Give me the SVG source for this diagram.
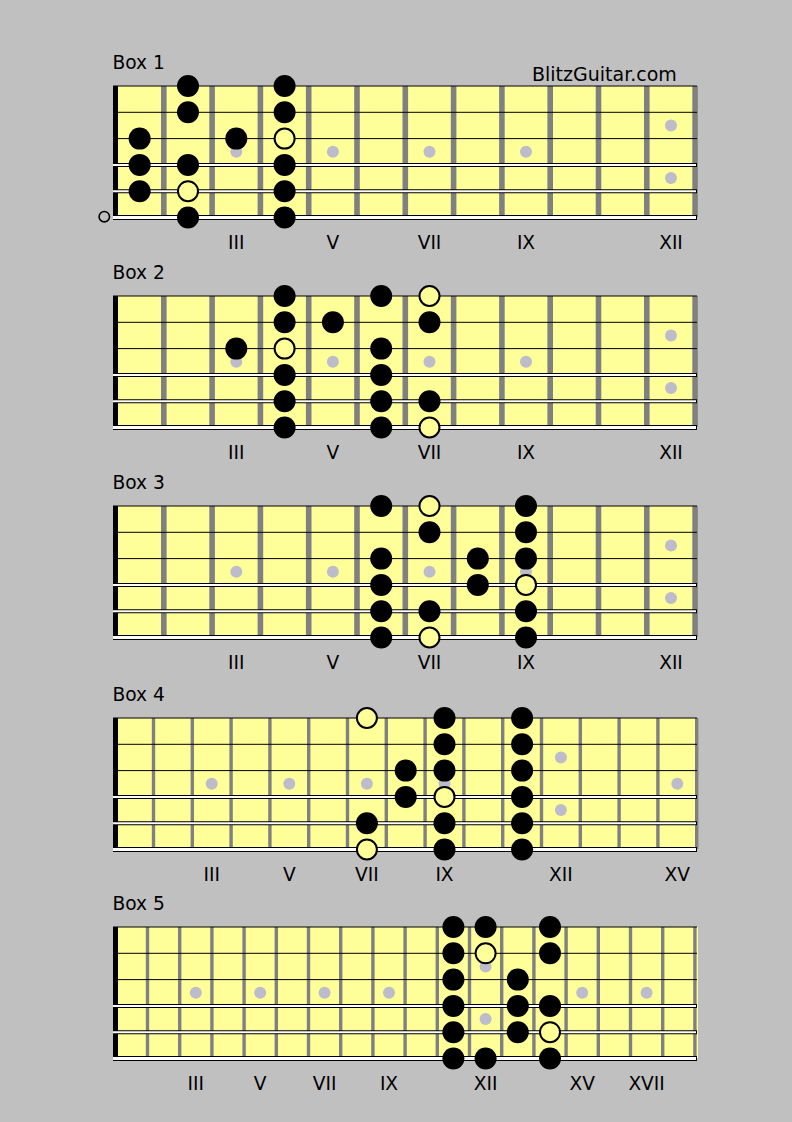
<svg xmlns="http://www.w3.org/2000/svg" xmlns:xlink="http://www.w3.org/1999/xlink" width="792" height="1122" viewBox="0 0 792 1122">
<style>
.bg{fill:#c0c0c0}
.board{fill:#ffff99}
.fret{fill:#808080}
.nut{fill:#000}
.thin{stroke:#000;stroke-width:1}
.w{stroke:#000;stroke-width:4}
.wi{stroke:#fff;stroke-width:2}
.w6{stroke:#000;stroke-width:5}
.w6i{stroke:#fff;stroke-width:3}
.inlay{fill:#bcbccb}
text{font-family:"DejaVu Sans",Verdana,sans-serif;font-size:18.6px;fill:#000}
.lbl{text-anchor:middle}
</style>
<defs>
<circle id="f" r="11" fill="#000"/>
<circle id="o" r="10" fill="#ffff99" stroke="#000" stroke-width="2"/>
<circle id="d" r="6" class="inlay"/>
<g id="strings">
<line class="thin" x1="113" y1="0" x2="697" y2="0"/>
<line class="thin" x1="113" y1="26.3" x2="697" y2="26.3"/>
<line class="thin" x1="113" y1="52.6" x2="697" y2="52.6"/>
<line class="w" x1="113" y1="78.9" x2="697" y2="78.9"/>
<line class="wi" x1="113" y1="78.9" x2="696" y2="78.9"/>
<line class="w" x1="113" y1="105.2" x2="697" y2="105.2"/>
<line class="wi" x1="113" y1="105.2" x2="696" y2="105.2"/>
<line class="w6" x1="113" y1="131.5" x2="697" y2="131.5"/>
<line class="w6i" x1="113" y1="131.5" x2="696" y2="131.5"/>
</g>
<g id="board12">
<rect class="board" x="113" y="0" width="585" height="131"/>
<g class="fret">
<rect x="161.0" y="0" width="5.6" height="131"/>
<rect x="209.3" y="0" width="5.6" height="131"/>
<rect x="257.6" y="0" width="5.6" height="131"/>
<rect x="305.9" y="0" width="5.6" height="131"/>
<rect x="354.2" y="0" width="5.6" height="131"/>
<rect x="402.5" y="0" width="5.6" height="131"/>
<rect x="450.8" y="0" width="5.6" height="131"/>
<rect x="499.1" y="0" width="5.6" height="131"/>
<rect x="547.4" y="0" width="5.6" height="131"/>
<rect x="595.7" y="0" width="5.6" height="131"/>
<rect x="644.0" y="0" width="5.6" height="131"/>
<rect x="692.3" y="0" width="5.6" height="131"/>
</g>
<rect class="nut" x="113" y="0" width="5" height="131.5"/>
<use href="#d" x="236.3" y="65.75"/>
<use href="#d" x="332.9" y="65.75"/>
<use href="#d" x="429.5" y="65.75"/>
<use href="#d" x="526" y="65.75"/>
<use href="#d" x="671" y="39.45"/>
<use href="#d" x="671" y="92.05"/>
<use href="#strings"/>
<text class="lbl" x="236.3" y="163">III</text>
<text class="lbl" x="332.9" y="163">V</text>
<text class="lbl" x="429.5" y="163">VII</text>
<text class="lbl" x="526" y="163">IX</text>
<text class="lbl" x="671" y="163">XII</text>
</g>
</defs>
<rect class="bg" x="0" y="0" width="792" height="1122"/>
<text x="532" y="80.5" style="font-size:19px">BlitzGuitar.com</text>

<g id="box1" transform="translate(0,86)">
<text x="112.5" y="-16.7">Box 1</text>
<use href="#board12"/>
<circle cx="104.3" cy="130.7" r="5.2" fill="none" stroke="#000" stroke-width="1.6"/>
<use href="#f" x="139.65" y="52.6"/>
<use href="#f" x="139.65" y="78.9"/>
<use href="#f" x="139.65" y="105.2"/>
<use href="#f" x="188" y="0"/>
<use href="#f" x="188" y="26.3"/>
<use href="#f" x="188" y="78.9"/>
<use href="#o" x="188" y="105.2"/>
<use href="#f" x="188" y="131.5"/>
<use href="#f" x="236.3" y="52.6"/>
<use href="#f" x="284.6" y="0"/>
<use href="#f" x="284.6" y="26.3"/>
<use href="#o" x="284.6" y="52.6"/>
<use href="#f" x="284.6" y="78.9"/>
<use href="#f" x="284.6" y="105.2"/>
<use href="#f" x="284.6" y="131.5"/>
</g>

<g id="box2" transform="translate(0,296)">
<text x="112.5" y="-16.7">Box 2</text>
<use href="#board12"/>
<use href="#f" x="236.3" y="52.6"/>
<use href="#f" x="284.6" y="0"/>
<use href="#f" x="284.6" y="26.3"/>
<use href="#o" x="284.6" y="52.6"/>
<use href="#f" x="284.6" y="78.9"/>
<use href="#f" x="284.6" y="105.2"/>
<use href="#f" x="284.6" y="131.5"/>
<use href="#f" x="332.9" y="26.3"/>
<use href="#f" x="381.2" y="0"/>
<use href="#f" x="381.2" y="52.6"/>
<use href="#f" x="381.2" y="78.9"/>
<use href="#f" x="381.2" y="105.2"/>
<use href="#f" x="381.2" y="131.5"/>
<use href="#o" x="429.5" y="0"/>
<use href="#f" x="429.5" y="26.3"/>
<use href="#f" x="429.5" y="105.2"/>
<use href="#o" x="429.5" y="131.5"/>
</g>

<g id="box3" transform="translate(0,506)">
<text x="112.5" y="-16.7">Box 3</text>
<use href="#board12"/>
<use href="#f" x="381.2" y="0"/>
<use href="#f" x="381.2" y="52.6"/>
<use href="#f" x="381.2" y="78.9"/>
<use href="#f" x="381.2" y="105.2"/>
<use href="#f" x="381.2" y="131.5"/>
<use href="#o" x="429.5" y="0"/>
<use href="#f" x="429.5" y="26.3"/>
<use href="#f" x="429.5" y="105.2"/>
<use href="#o" x="429.5" y="131.5"/>
<use href="#f" x="477.8" y="52.6"/>
<use href="#f" x="477.8" y="78.9"/>
<use href="#f" x="526" y="0"/>
<use href="#f" x="526" y="26.3"/>
<use href="#f" x="526" y="52.6"/>
<use href="#o" x="526" y="78.9"/>
<use href="#f" x="526" y="105.2"/>
<use href="#f" x="526" y="131.5"/>
</g>

<g id="box4" transform="translate(0,718)">
<text x="112.5" y="-16.7">Box 4</text>
<rect class="board" x="113" y="0" width="585" height="131"/>
<g class="fret">
<rect x="151.8" y="0" width="3.4" height="131"/>
<rect x="190.6" y="0" width="3.4" height="131"/>
<rect x="229.4" y="0" width="3.4" height="131"/>
<rect x="268.2" y="0" width="3.4" height="131"/>
<rect x="307.0" y="0" width="3.4" height="131"/>
<rect x="345.8" y="0" width="3.4" height="131"/>
<rect x="384.6" y="0" width="3.4" height="131"/>
<rect x="423.4" y="0" width="3.4" height="131"/>
<rect x="462.2" y="0" width="3.4" height="131"/>
<rect x="501.0" y="0" width="3.4" height="131"/>
<rect x="539.8" y="0" width="3.4" height="131"/>
<rect x="578.6" y="0" width="3.4" height="131"/>
<rect x="617.4" y="0" width="3.4" height="131"/>
<rect x="656.2" y="0" width="3.4" height="131"/>
<rect x="695.0" y="0" width="3.4" height="131"/>
</g>
<rect class="nut" x="113" y="0" width="5" height="131.5"/>
<use href="#d" x="211.7" y="65.75"/>
<use href="#d" x="289.3" y="65.75"/>
<use href="#d" x="366.9" y="65.75"/>
<use href="#d" x="444.5" y="65.75"/>
<use href="#d" x="560.9" y="39.45"/>
<use href="#d" x="560.9" y="92.05"/>
<use href="#d" x="677.3" y="65.75"/>
<use href="#strings"/>
<text class="lbl" x="211.7" y="163">III</text>
<text class="lbl" x="289.3" y="163">V</text>
<text class="lbl" x="366.9" y="163">VII</text>
<text class="lbl" x="444.5" y="163">IX</text>
<text class="lbl" x="560.9" y="163">XII</text>
<text class="lbl" x="677.3" y="163">XV</text>
<use href="#o" x="366.9" y="0"/>
<use href="#f" x="366.9" y="105.2"/>
<use href="#o" x="366.9" y="131.5"/>
<use href="#f" x="405.7" y="52.6"/>
<use href="#f" x="405.7" y="78.9"/>
<use href="#f" x="444.5" y="0"/>
<use href="#f" x="444.5" y="26.3"/>
<use href="#f" x="444.5" y="52.6"/>
<use href="#o" x="444.5" y="78.9"/>
<use href="#f" x="444.5" y="105.2"/>
<use href="#f" x="444.5" y="131.5"/>
<use href="#f" x="522.1" y="0"/>
<use href="#f" x="522.1" y="26.3"/>
<use href="#f" x="522.1" y="52.6"/>
<use href="#f" x="522.1" y="78.9"/>
<use href="#f" x="522.1" y="105.2"/>
<use href="#f" x="522.1" y="131.5"/>
</g>

<g id="box5" transform="translate(0,927)">
<text x="112.5" y="-16.7">Box 5</text>
<rect class="board" x="113" y="0" width="585" height="131"/>
<g class="fret">
<rect x="145.8" y="0" width="3.4" height="131"/>
<rect x="178.0" y="0" width="3.4" height="131"/>
<rect x="210.2" y="0" width="3.4" height="131"/>
<rect x="242.4" y="0" width="3.4" height="131"/>
<rect x="274.6" y="0" width="3.4" height="131"/>
<rect x="306.8" y="0" width="3.4" height="131"/>
<rect x="339.0" y="0" width="3.4" height="131"/>
<rect x="371.2" y="0" width="3.4" height="131"/>
<rect x="403.4" y="0" width="3.4" height="131"/>
<rect x="435.6" y="0" width="3.4" height="131"/>
<rect x="467.8" y="0" width="3.4" height="131"/>
<rect x="500.0" y="0" width="3.4" height="131"/>
<rect x="532.2" y="0" width="3.4" height="131"/>
<rect x="564.4" y="0" width="3.4" height="131"/>
<rect x="596.6" y="0" width="3.4" height="131"/>
<rect x="628.8" y="0" width="3.4" height="131"/>
<rect x="661.0" y="0" width="3.4" height="131"/>
<rect x="693.2" y="0" width="3.4" height="131"/>
</g>
<rect class="nut" x="113" y="0" width="5" height="131.5"/>
<use href="#d" x="195.8" y="65.75"/>
<use href="#d" x="260.2" y="65.75"/>
<use href="#d" x="324.6" y="65.75"/>
<use href="#d" x="389" y="65.75"/>
<use href="#d" x="485.6" y="39.45"/>
<use href="#d" x="485.6" y="92.05"/>
<use href="#d" x="582.2" y="65.75"/>
<use href="#d" x="646.6" y="65.75"/>
<use href="#strings"/>
<text class="lbl" x="195.8" y="163">III</text>
<text class="lbl" x="260.2" y="163">V</text>
<text class="lbl" x="324.6" y="163">VII</text>
<text class="lbl" x="389" y="163">IX</text>
<text class="lbl" x="485.6" y="163">XII</text>
<text class="lbl" x="582.2" y="163">XV</text>
<text class="lbl" x="646.6" y="163">XVII</text>
<use href="#f" x="453.4" y="0"/>
<use href="#f" x="453.4" y="26.3"/>
<use href="#f" x="453.4" y="52.6"/>
<use href="#f" x="453.4" y="78.9"/>
<use href="#f" x="453.4" y="105.2"/>
<use href="#f" x="453.4" y="131.5"/>
<use href="#f" x="485.6" y="0"/>
<use href="#o" x="485.6" y="26.3"/>
<use href="#f" x="485.6" y="131.5"/>
<use href="#f" x="517.8" y="52.6"/>
<use href="#f" x="517.8" y="78.9"/>
<use href="#f" x="517.8" y="105.2"/>
<use href="#f" x="550" y="0"/>
<use href="#f" x="550" y="26.3"/>
<use href="#f" x="550" y="78.9"/>
<use href="#o" x="550" y="105.2"/>
<use href="#f" x="550" y="131.5"/>
</g>
</svg>
